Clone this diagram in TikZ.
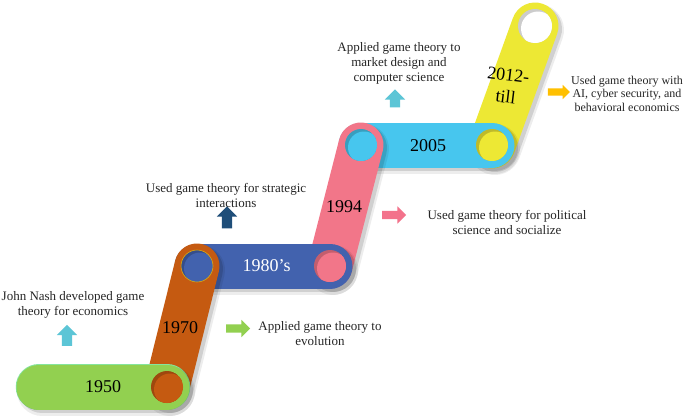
\documentclass[tikz,border=0pt]{standalone}
\usepackage{fontspec}
\setmainfont{Liberation Serif}
\usetikzlibrary{shapes.arrows,calc}
\definecolor{cgreen}{HTML}{92D050}
\definecolor{corange}{HTML}{C55A11}
\definecolor{cblue}{HTML}{4262AE}
\definecolor{cpink}{HTML}{F27689}
\definecolor{ccyan}{HTML}{47C6EE}
\definecolor{cyellow}{HTML}{EDE834}
\definecolor{txt}{HTML}{262626}
\definecolor{aCyan}{HTML}{5CC5D6}
\definecolor{aNavy}{HTML}{1F4E79}
\definecolor{aPink}{HTML}{F3728B}
\definecolor{aGold}{HTML}{FFC000}
\tikzset{
  bar/.style={line width=45pt, line cap=round},
  shadowbar/.style={line width=47pt, line cap=round, black, opacity=0.12},
  desc/.style={align=center, text=txt, font=\fontsize{13}{15}\selectfont, inner sep=0pt},
  yearlbl/.style={font=\fontsize{18}{22}\selectfont, inner sep=0pt, text=black},
  blockarrow/.style={single arrow, single arrow head extend=5pt, inner xsep=0pt, inner ysep=5pt, draw=none},
}
\newcommand\barseg[4][45pt]{%
  \draw[shadowbar, line width=#1+5pt, opacity=0.07] ($(#3)+(3,4)$) -- ($(#4)+(3,4)$);
  \draw[shadowbar, line width=#1+1pt] ($(#3)+(3,3)$) -- ($(#4)+(3,3)$);
  \draw[bar, line width=#1, #2] (#3) -- (#4);}
\newcommand\junchole[3][16pt]{%
  \begin{scope}
    \clip (#2) circle (#1);
    \fill[#3!80!black] (#2) circle (#1);
    \fill[#3] ($(#2)+(3,2.5)$) circle (#1);
  \end{scope}}
\begin{document}
\begin{tikzpicture}[x=1pt,y=-1pt]
\fill[white] (0,0) rectangle (685,418);
\path[use as bounding box] (0,0) rectangle (685,418);
\coordinate (g0) at (39,387);
\coordinate (jA) at (167,387);
\coordinate (jB) at (197,266);
\coordinate (jC) at (330,266);
\coordinate (jD) at (361,145);
\coordinate (jE) at (492,145);
\coordinate (jF) at (535,26);
% bars, back to front
\barseg[47pt]{cyellow}{jE}{jF}
\barseg{ccyan}{jD}{jE}
\barseg{cpink}{jC}{jD}
\barseg{cblue}{jB}{jC}
\barseg{corange}{jA}{jB}
\draw[line width=46.5pt, line cap=round, color=cgreen!70!cyan!80!white] (g0) -- (jA);
\barseg{cgreen}{g0}{jA}
% holes
\junchole{jA}{corange}
\junchole{jB}{cblue}
\draw[line width=0.6pt, color=corange!50!yellow] (jB) circle (16pt);
\junchole{jC}{cpink}
\junchole{jD}{ccyan}
\junchole{jE}{cyellow}
\junchole[17pt]{jF}{white}
% year labels
\node[yearlbl] (y1950) at (103,387) {1950};
\node[yearlbl] (y1970) at (180,328) {1970};
\node[yearlbl, text=white] (y1980) at (266.5,266) {1980’s};
\node[yearlbl] (y1994) at (344,207) {1994};
\node[yearlbl] (y2005) at (428,145.5) {2005};
\node[yearlbl, align=center, rotate=-7] (y2012) at (507,86) {2012-\\till};
% arrows
\node[blockarrow, fill=aCyan, rotate=90, minimum height=21pt] (ar1) at (67,338) {};
\node[blockarrow, fill=cgreen, minimum height=24pt, inner ysep=4pt, single arrow head extend=4.5pt] (ar2) at (236,328.5) {};
\node[blockarrow, fill=aNavy, rotate=90, minimum height=22pt] (ar3) at (227,220) {};
\node[blockarrow, fill=aPink, minimum height=24pt, inner ysep=4pt, single arrow head extend=4.5pt] (ar4) at (392,215) {};
\node[blockarrow, fill=aCyan, rotate=90, minimum height=18pt] (ar5) at (395,101) {};
\node[blockarrow, fill=aGold, minimum height=22pt, inner ysep=3.5pt, single arrow head extend=3.5pt] (ar6) at (557,92) {};
% descriptions
\node[desc] (t1950) at (73,304.5) {John Nash developed game\\theory for economics};
\node[desc] (t1970) at (320,334) {Applied game theory to\\evolution};
\node[desc] (t1980) at (226,195) {Used game theory for strategic\\interactions};
\node[desc] (t1994) at (507,222.5) {Used game theory for political\\science and socialize};
\node[desc] (t2005) at (399,63) {Applied game theory to\\market design and\\computer science};
\node[desc, font=\fontsize{12}{13.5}\selectfont] (t2012) at (627,93.5) {Used game theory with\\AI, cyber security, and\\behavioral economics};
\end{tikzpicture}
\end{document}
